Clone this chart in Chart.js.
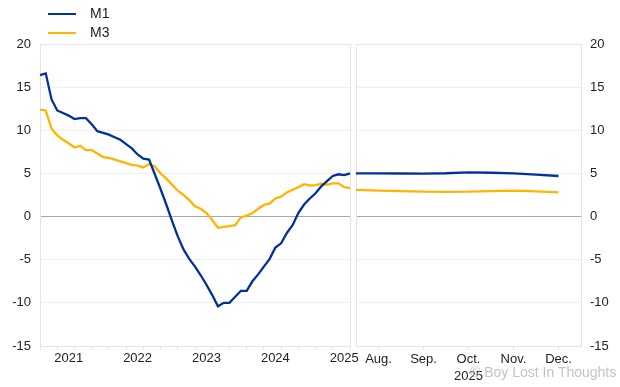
<!DOCTYPE html>
<html>
<head>
<meta charset="utf-8">
<script src="https://cdn.jsdelivr.net/npm/chart.js@4.4.1/dist/chart.umd.min.js"></script>
<style>
  body { margin: 0; background: #fff; }
  #wrap { position: relative; width: 620px; height: 387px; overflow: hidden; font-family: "Liberation Sans", Arial, sans-serif; }
  canvas { position: absolute; top: 0; }
  #histChart { left: 0; }
  #projChart { left: 300px; }
  .leg { position: absolute; left: 48px; font-size: 14px; color: #222; }
  .leg span { position: absolute; left: 0; top: 8px; width: 28px; height: 2px; }
  .leg b { position: absolute; left: 42px; top: 0; font-weight: normal; white-space: nowrap; }
  #credit { position: absolute; left: 470px; top: 364px; font-size: 14px; color: #c4c4c4; white-space: nowrap; }
</style>
</head>
<body>
<div id="wrap">
  <canvas id="histChart" width="400" height="387"></canvas>
  <canvas id="projChart" width="320" height="387"></canvas>
  <div class="leg" style="top:5px"><span style="background:#003299"></span><b>M1</b></div>
  <div class="leg" style="top:24px"><span style="background:#ffb400"></span><b>M3</b></div>
  <div id="credit">© Boy Lost In Thoughts</div>
</div>
<script>
// monthly history, Jan 2021 .. Jul 2025
const years = ['2021', '2022', '2023', '2024', '2025'];
const lastMonth = 7;
const m1 = [16.4, 16.6, 13.6, 12.3, 12.0, 11.7, 11.3, 11.4, 11.4, 10.7, 9.9, 9.7,
            9.5, 9.2, 8.9, 8.4, 7.9, 7.2, 6.7, 6.6, 4.9, 3.2, 1.4, -0.5,
            -2.3, -3.8, -4.9, -5.8, -6.8, -7.9, -9.1, -10.4, -10.0, -10.0, -9.3, -8.6,
            -8.6, -7.5, -6.7, -5.8, -4.9, -3.6, -3.1, -1.9, -1.0, 0.4, 1.4, 2.1,
            2.7, 3.5, 4.1, 4.7, 4.9, 4.8, 5.0];
const m3 = [12.4, 12.3, 10.2, 9.4, 8.9, 8.5, 8.0, 8.2, 7.7, 7.7, 7.3, 6.9,
            6.8, 6.6, 6.4, 6.2, 6.0, 5.9, 5.7, 6.1, 5.8, 5.0, 4.4, 3.7,
            3.0, 2.5, 1.9, 1.2, 0.9, 0.4, -0.4, -1.3, -1.2, -1.1, -1.0, -0.1,
            0.1, 0.4, 0.9, 1.35, 1.5, 2.1, 2.3, 2.8, 3.1, 3.4, 3.75, 3.6,
            3.65, 3.8, 3.7, 3.85, 3.85, 3.4, 3.3];

// outlook, Aug .. Dec 2025 (half-month steps)
const projMonths = ['Aug.', 'Sep.', 'Oct.', 'Nov.', 'Dec.'];
const projYear = '2025';
const projX = [-0.5, 0, 0.5, 1, 1.5, 2, 2.5, 3, 3.5, 4];
const m1Proj = [5.0, 5.0, 4.99, 4.98, 5.02, 5.12, 5.08, 5.0, 4.85, 4.7];
const m3Proj = [3.1, 3.0, 2.95, 2.88, 2.87, 2.88, 2.95, 3.0, 2.92, 2.8];

const yTicks = { min: -15, max: 20, step: 5 };

const monthLabels = [];
years.forEach((y, yi) => {
  const n = yi === years.length - 1 ? lastMonth : 12;
  for (let m = 1; m <= n; m++) monthLabels.push(y + '-' + String(m).padStart(2, '0'));
});

Chart.defaults.font.family = '"Liberation Sans", Arial, sans-serif';
Chart.defaults.font.size = 13;
Chart.defaults.color = '#222';
Chart.defaults.animation = false;

const panelBox = {
  id: 'panelBox',
  beforeDatasetsDraw(chart) {
    const a = chart.chartArea, c = chart.ctx;
    c.save();
    c.strokeStyle = '#e4e4e4';
    c.lineWidth = 1;
    c.strokeRect(Math.round(a.left) + 0.5, Math.round(a.top) + 0.5, Math.round(a.width), Math.round(a.height));
    c.restore();
  }
};

const gridColor = ctx => ctx.tick && ctx.tick.value === 0 ? '#a8a8a8' : '#efefef';

function yAxis(pos, width) {
  return {
    position: pos,
    min: yTicks.min, max: yTicks.max,
    ticks: { stepSize: yTicks.step, padding: 9 },
    grid: { color: gridColor, drawTicks: false },
    border: { display: false },
    afterFit: s => { s.width = width; }
  };
}

const lineStyle = (label, data, color) => ({
  label, data, borderColor: color, backgroundColor: color,
  borderWidth: 2.3, pointRadius: 0, tension: 0
});

new Chart(document.getElementById('histChart'), {
  type: 'line',
  data: {
    labels: monthLabels,
    datasets: [lineStyle('M1', m1, '#003299'), lineStyle('M3', m3, '#ffb400')]
  },
  options: {
    responsive: false,
    layout: { padding: { top: 44, right: 50, left: 0, bottom: 0 } },
    plugins: { legend: { display: false }, tooltip: { enabled: false } },
    scales: {
      x: {
        ticks: {
          autoSkip: false, maxRotation: 0, padding: 1,
          callback: (v, i) => i % 12 === 5 ? monthLabels[i].slice(0, 4) : ''
        },
        grid: { drawOnChartArea: false, tickLength: 4, color: (ctx) => ctx.index % 3 === 0 ? '#e6e6e6' : 'rgba(0,0,0,0)' },
        border: { display: false },
        afterFit: s => { s.height = 41; }
      },
      y: yAxis('left', 40)
    }
  },
  plugins: [panelBox]
});

new Chart(document.getElementById('projChart'), {
  type: 'line',
  data: {
    datasets: [
      lineStyle('M1', projX.map((x, i) => ({ x, y: m1Proj[i] })), '#003299'),
      lineStyle('M3', projX.map((x, i) => ({ x, y: m3Proj[i] })), '#ffb400')
    ]
  },
  options: {
    responsive: false,
    layout: { padding: { top: 44, right: 0, left: 56, bottom: 0 } },
    plugins: { legend: { display: false }, tooltip: { enabled: false } },
    scales: {
      x: {
        type: 'linear', min: -0.5, max: 4.5,
        afterBuildTicks: s => { s.ticks = projMonths.map((m, i) => ({ value: i })); },
        ticks: {
          maxRotation: 0, padding: 1, autoSkip: false,
          font: { lineHeight: 1.3 },
          callback: v => v === 2 ? [projMonths[v], projYear] : projMonths[v]
        },
        grid: { drawOnChartArea: false, tickLength: 4, color: '#e6e6e6' },
        border: { display: false },
        afterFit: s => { s.height = 41; }
      },
      y: yAxis('right', 39)
    }
  },
  plugins: [panelBox]
});
</script>
</body>
</html>
